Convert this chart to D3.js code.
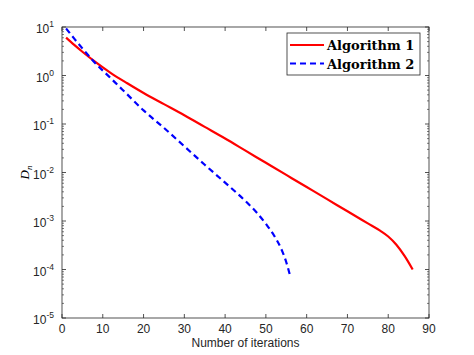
<!DOCTYPE html>
<html><head><meta charset="utf-8">
<script src="https://cdn.jsdelivr.net/npm/d3@7"></script>
<style>
body{margin:0;background:#fff;}
svg{display:block;}
</style>
</head><body>
<svg id="chart" width="474" height="355"></svg>
<script>
// Data (log10 values)
const alg1Iter = [1,3,5,8,12,16,20,25,30,35,40,45,50,55,60,65,70,75,78,80,82,84,86];
const alg1Log  = [0.78,0.63,0.49,0.29,0.05,-0.16,-0.36,-0.59,-0.82,-1.06,-1.30,-1.55,-1.80,-2.05,-2.30,-2.55,-2.80,-3.05,-3.20,-3.32,-3.49,-3.72,-4.0];
const alg2Iter = [1,3,5,8,12,16,20,25,30,35,40,45,48,50,52,54,55,56];
const alg2Log  = [0.97,0.76,0.56,0.27,-0.06,-0.39,-0.72,-1.08,-1.46,-1.84,-2.21,-2.59,-2.85,-3.06,-3.30,-3.62,-3.85,-4.15];
const xTicks = [0,10,20,30,40,50,60,70,80,90];
const yExps = [1,0,-1,-2,-3,-4,-5];
const seriesNames = ["Algorithm 1","Algorithm 2"];
const seriesColors = ["#ff0000","#0000ff"];

const sans = "'Liberation Sans',Arial,Helvetica,sans-serif";
const serif = "'DejaVu Serif','Liberation Serif',serif";
const svg = d3.select("#chart");
const L=62, R=429, T=27, B=318;
const x = d3.scaleLinear().domain([0,90]).range([L,R]);
const y = d3.scaleLog().domain([1e-5,10]).range([B,T]);
const axisCol = "#262626";

// Frame
svg.append("rect").attr("x",L).attr("y",T).attr("width",R-L).attr("height",B-T)
  .attr("fill","none").attr("stroke",axisCol).attr("stroke-width",0.8);

// X ticks (bottom and top, inward)
const gx = svg.append("g");
xTicks.forEach(t=>{
  gx.append("line").attr("x1",x(t)).attr("x2",x(t)).attr("y1",B).attr("y2",B-4).attr("stroke",axisCol).attr("stroke-width",0.8);
  gx.append("line").attr("x1",x(t)).attr("x2",x(t)).attr("y1",T).attr("y2",T+4).attr("stroke",axisCol).attr("stroke-width",0.8);
  gx.append("text").attr("x",x(t)).attr("y",B+15).attr("text-anchor","middle")
    .style("font-family",sans).style("font-size","12px").style("fill",axisCol).text(t);
});

// Y ticks major + minor
const gy = svg.append("g");
yExps.forEach(e=>{
  const v = Math.pow(10,e);
  gy.append("line").attr("x1",L).attr("x2",L+4).attr("y1",y(v)).attr("y2",y(v)).attr("stroke",axisCol).attr("stroke-width",0.8);
  gy.append("line").attr("x1",R).attr("x2",R-4).attr("y1",y(v)).attr("y2",y(v)).attr("stroke",axisCol).attr("stroke-width",0.8);
  const tx = gy.append("text").attr("x",L-8).attr("y",y(v)+6).attr("text-anchor","end")
    .style("font-family",sans).style("font-size","12px").style("fill",axisCol);
  tx.append("tspan").text("10");
  tx.append("tspan").attr("dy",-6).style("font-size","8.5px").text(e<0 ? "-"+(-e) : String(e));
  if(e>-5){
    for(let m=2;m<=9;m++){
      const mv = m*Math.pow(10,e-1);
      gy.append("line").attr("x1",L).attr("x2",L+2).attr("y1",y(mv)).attr("y2",y(mv)).attr("stroke",axisCol).attr("stroke-width",0.6);
      gy.append("line").attr("x1",R).attr("x2",R-2).attr("y1",y(mv)).attr("y2",y(mv)).attr("stroke",axisCol).attr("stroke-width",0.6);
    }
  }
});

// Axis labels
svg.append("text").attr("x",(L+R)/2).attr("y",347).attr("text-anchor","middle")
  .style("font-family",sans).style("font-size","12px").style("fill",axisCol).text("Number of iterations");
const yl = svg.append("text").attr("transform",`translate(29,${(T+B)/2}) rotate(-90)`).attr("text-anchor","middle")
  .style("font-family","'Liberation Serif','DejaVu Serif',serif").style("font-style","italic").style("font-size","13px").style("fill","#000");
yl.append("tspan").text("D");
yl.append("tspan").attr("dy",3).style("font-size","9px").text("n");

// Lines
const line = d3.line().x(d=>x(d[0])).y(d=>y(Math.pow(10,d[1]))).curve(d3.curveMonotoneX);
const d1 = alg1Iter.map((it,i)=>[it,alg1Log[i]]);
const d2 = alg2Iter.map((it,i)=>[it,alg2Log[i]]);
svg.append("path").attr("d",line(d1)).attr("fill","none").attr("stroke",seriesColors[0]).attr("stroke-width",2.2);
svg.append("path").attr("d",line(d2)).attr("fill","none").attr("stroke",seriesColors[1]).attr("stroke-width",2.2).attr("stroke-dasharray","6,4");

// Legend
const lg = svg.append("g");
lg.append("rect").attr("x",287).attr("y",33).attr("width",133).attr("height",42).attr("fill","#fff").attr("stroke",axisCol).attr("stroke-width",0.8);
seriesNames.forEach((n,i)=>{
  const yy = 45 + i*18.5;
  lg.append("line").attr("x1",290).attr("x2",324).attr("y1",yy).attr("y2",yy).attr("stroke",seriesColors[i]).attr("stroke-width",2.2)
    .attr("stroke-dasharray", i===1 ? "6,4" : null);
  lg.append("text").attr("x",327).attr("y",yy+5)
    .style("font-family",serif).style("font-weight","bold").style("font-size","13px").style("fill","#000").text(n);
});
</script>
</body></html>
